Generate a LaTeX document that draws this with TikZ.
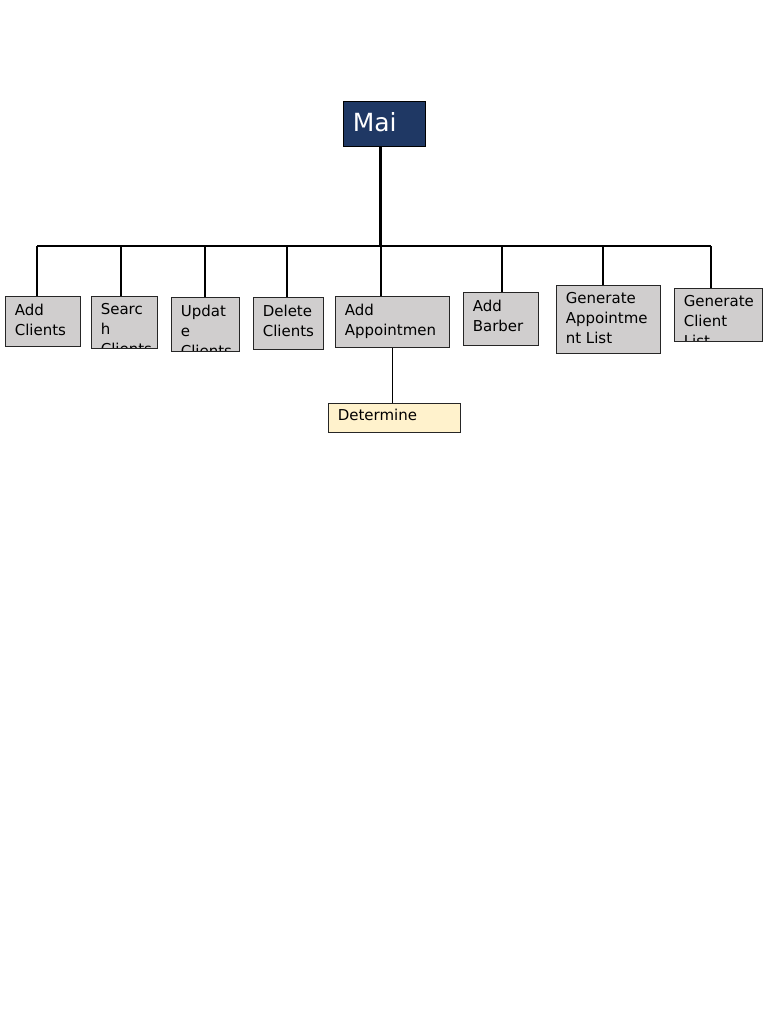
\documentclass[tikz,border=0pt]{standalone}
\usepackage{fontspec}
\setmainfont{DejaVu Sans}
\definecolor{mainblue}{HTML}{1F3864}
\definecolor{boxgray}{HTML}{D0CECE}
\definecolor{notecream}{HTML}{FFF2CC}
\tikzset{
	box/.style={draw=black!85, fill=boxgray, line width=0.8pt, anchor=north west, inner sep=0pt},
	inlabel/.style={anchor=north west, inner sep=0pt, minimum width=0pt, minimum height=0pt, align=left},
	boxtext/.style 2 args={path picture={\node[inlabel, font=\fontsize{15}{20}\selectfont] at ([xshift=9pt,yshift=#1]path picture bounding box.north west) {#2};}},
	stem/.style={line width=1.8pt}
}
\begin{document}
\begin{tikzpicture}[x=1pt, y=-1pt]
	\useasboundingbox (0,0) rectangle (768,1024);
	\node[box, fill=mainblue, draw=black, minimum width=82, minimum height=45,
		path picture={\node[inlabel, text=white, font=\fontsize{25}{30}\selectfont] at ([xshift=9pt,yshift=-11pt]path picture bounding box.north west) {Mai};}] (mai) at (343,101) {};
	\node[box, minimum width=75, minimum height=50, boxtext={-7pt}{Add\\Clients}] (addc) at (5,296) {};
	\node[box, minimum width=66, minimum height=52, boxtext={-7pt}{Searc\\h\\Clients}] (srch) at (91,296) {};
	\node[box, minimum width=68, minimum height=54, boxtext={-7pt}{Updat\\e\\Clients}] (updc) at (171,297) {};
	\node[box, minimum width=70, minimum height=52, boxtext={-7pt}{Delete\\Clients}] (delc) at (253,297) {};
	\node[box, minimum width=114, minimum height=51, boxtext={-7pt}{Add\\Appointmen}] (adda) at (335,296) {};
	\node[box, minimum width=75, minimum height=53, boxtext={-7pt}{Add\\Barber}] (addb) at (463,292) {};
	\node[box, minimum width=104, minimum height=68, boxtext={-7pt}{Generate\\Appointme\\nt List}] (gapl) at (556,285) {};
	\node[box, minimum width=88, minimum height=53, boxtext={-7pt}{Generate\\Client\\List}] (gcli) at (674,288) {};
	\node[box, fill=notecream, minimum width=132, minimum height=29, boxtext={-5pt}{Determine}] (det) at (328,403) {};
	\coordinate (busL) at (37,246);
	\coordinate (busR) at (711,246);
	\draw[stem] (busL) -- (busR);
	\draw[line width=2.6pt] ([xshift=-4pt]mai.south) -- ([xshift=-4pt]mai.south |- busL);
	\draw[line width=1.2pt] ([xshift=-9pt]mai.south) -- ([xshift=1pt]mai.south);
	\foreach \n/\x in {addc/37, srch/121, updc/205, delc/287, adda/381, addb/502, gapl/603, gcli/711}
		\draw[stem] (\x,246) coordinate (t) -- (t |- \n.north);
	\draw[stem] (adda.south) -- (adda.south |- det.north);
\end{tikzpicture}
\end{document}
